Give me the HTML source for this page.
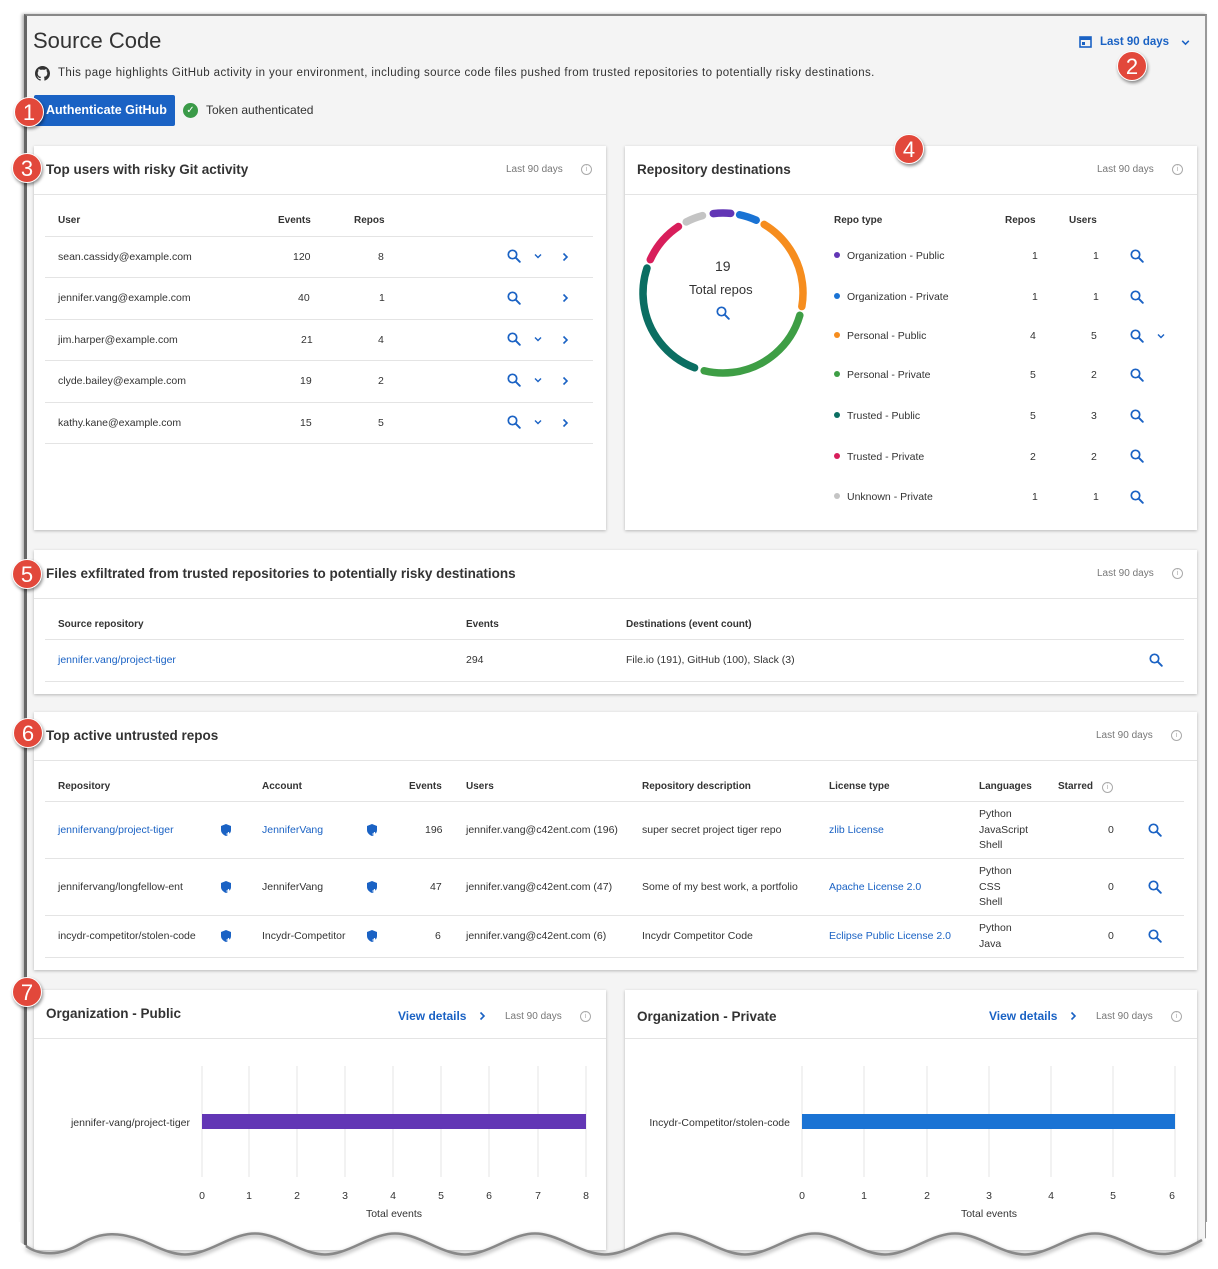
<!DOCTYPE html>
<html><head><meta charset="utf-8"><style>
body{margin:0;width:1218px;height:1269px;background:#fff;position:relative;overflow:hidden;font-family:"Liberation Sans",sans-serif;color:#333}
.t{position:absolute;white-space:nowrap;font-size:10.5px;line-height:14px;color:#333}
.h{font-weight:bold;font-size:10px;color:#333}
.card{position:absolute;background:#fff;box-shadow:0 1px 3px rgba(0,0,0,.25)}
.title{position:absolute;font-size:13.5px;font-weight:bold;color:#333;white-space:nowrap}
.l90{position:absolute;font-size:10px;color:#777;white-space:nowrap}
.info{position:absolute;width:9px;height:9px;border:1px solid #aaa;border-radius:50%;font-size:7px;line-height:9px;text-align:center;color:#aaa}
.line{position:absolute;height:1px;background:#e4e4e4}
.s{position:absolute;width:14px;height:14px}
.badge{position:absolute;width:30px;height:30px;border-radius:50%;background:#e2483b;color:#fff;font-size:22px;line-height:30px;text-align:center;box-shadow:1px 2px 3px rgba(0,0,0,.45);border:1px solid #fff;box-sizing:border-box}
.blue{color:#1a62c4}
.dot{display:inline-block;width:6px;height:6px;border-radius:50%;margin-right:7px;vertical-align:1px}
</style></head><body>
<svg width="0" height="0" style="position:absolute"><defs>
<symbol id="mag" viewBox="0 0 14 14"><circle cx="5.5" cy="5.5" r="4.2" fill="none" stroke="#1a62c4" stroke-width="1.7"/><line x1="8.6" y1="8.6" x2="12.8" y2="12.8" stroke="#1a62c4" stroke-width="1.9" stroke-linecap="round"/></symbol>
<symbol id="dn" viewBox="0 0 10 10"><polyline points="2,3.5 5,6.5 8,3.5" fill="none" stroke="#1a62c4" stroke-width="1.4"/></symbol>
<symbol id="rt" viewBox="0 0 10 10"><polyline points="3.5,1.5 7,5 3.5,8.5" fill="none" stroke="#1a62c4" stroke-width="1.6"/></symbol>
<symbol id="sh" viewBox="0 0 12 14"><path d="M6 1 L11 3 L11 7 C11 10 8.5 12 6 13 C3.5 12 1 10 1 7 L1 3 Z" fill="#1a62c4"/><path d="M8.5 9 v4 M6.5 11 h4" stroke="#fff" stroke-width="1.3"/></symbol>
</defs></svg>

<!-- page frame -->
<div style="position:absolute;left:24px;top:14px;width:1178px;height:1240px;background:#f4f4f4;border-left:3px solid #666;border-top:2px solid #888;border-right:2px solid #999;box-shadow:-2px 0 3px rgba(0,0,0,.3)"></div>

<div style="position:absolute;left:33px;top:28px;font-size:22px;color:#333">Source Code</div>
<svg style="position:absolute;left:35px;top:66px" width="15" height="15" viewBox="0 0 16 16"><path fill="#333" d="M8 0C3.58 0 0 3.58 0 8c0 3.54 2.29 6.53 5.47 7.59.4.07.55-.17.55-.38v-1.33c-2.23.48-2.7-1.07-2.7-1.07-.36-.92-.89-1.17-.89-1.17-.73-.5.06-.49.06-.49.8.06 1.23.83 1.23.83.72 1.22 1.87.87 2.33.66.07-.52.28-.87.51-1.07-1.78-.2-3.65-.89-3.65-3.95 0-.87.31-1.59.82-2.15-.08-.2-.36-1.02.08-2.12 0 0 .67-.21 2.2.82a7.6 7.6 0 014 0c1.53-1.04 2.2-.82 2.2-.82.44 1.1.16 1.92.08 2.12.51.56.82 1.27.82 2.15 0 3.07-1.87 3.75-3.65 3.95.29.25.54.73.54 1.48v2.2c0 .21.15.46.55.38A8.01 8.01 0 0016 8c0-4.42-3.58-8-8-8z"/></svg>
<div class="t" style="left:58px;top:66px;font-size:11.5px;letter-spacing:0.4px">This page highlights GitHub activity in your environment, including source code files pushed from trusted repositories to potentially risky destinations.</div>
<svg style="position:absolute;left:1079px;top:35px" width="13" height="13" viewBox="0 0 13 13"><rect x="1" y="2" width="11" height="10" fill="none" stroke="#1a62c4" stroke-width="1.6"/><rect x="1" y="2" width="11" height="3" fill="#1a62c4"/><rect x="3" y="7" width="3" height="3" fill="#1a62c4"/></svg>
<div class="t blue" style="left:1100px;top:35px;font-size:11.5px;font-weight:bold">Last 90 days</div>
<svg style="position:absolute;left:1180px;top:37px" width="11" height="11"><use href="#dn"/></svg>

<div style="position:absolute;left:34px;top:95px;width:141px;height:31px;background:#1a62c4;border-radius:2px;color:#fff;font-size:12.5px;font-weight:bold;line-height:31px;text-indent:12px">Authenticate GitHub</div>
<div style="position:absolute;left:183px;top:103px;width:15px;height:15px;border-radius:50%;background:#3a9a48;color:#fff;font-size:10px;line-height:15px;text-align:center">✓</div>
<div class="t" style="left:206px;top:103px;font-size:12px">Token authenticated</div>

<!-- Card 1 -->
<div class="card" style="left:34px;top:146px;width:572px;height:384px"></div>
<div class="title" style="left:46px;top:162px">Top users with risky Git activity</div>
<div class="l90" style="left:506px;top:164px">Last 90 days</div><div class="info" style="left:581px;top:164px">i</div>
<div class="line" style="left:34px;top:194px;width:572px"></div>
<div class="t h" style="left:58px;top:214px">User</div><div class="t h" style="left:278px;top:214px">Events</div><div class="t h" style="left:354px;top:214px">Repos</div>
<div class="line" style="left:45px;top:236px;width:548px"></div>
<div class="t" style="left:58px;top:250px">sean.cassidy@example.com</div><div class="t" style="left:293px;top:250px">120</div><div class="t" style="left:378px;top:250px">8</div>
<div class="line" style="left:45px;top:277px;width:548px"></div>
<div class="t" style="left:58px;top:291px">jennifer.vang@example.com</div><div class="t" style="left:298px;top:291px">40</div><div class="t" style="left:379px;top:291px">1</div>
<div class="line" style="left:45px;top:319px;width:548px"></div>
<div class="t" style="left:58px;top:333px">jim.harper@example.com</div><div class="t" style="left:301px;top:333px">21</div><div class="t" style="left:378px;top:333px">4</div>
<div class="line" style="left:45px;top:360px;width:548px"></div>
<div class="t" style="left:58px;top:374px">clyde.bailey@example.com</div><div class="t" style="left:300px;top:374px">19</div><div class="t" style="left:378px;top:374px">2</div>
<div class="line" style="left:45px;top:402px;width:548px"></div>
<div class="t" style="left:58px;top:416px">kathy.kane@example.com</div><div class="t" style="left:300px;top:416px">15</div><div class="t" style="left:378px;top:416px">5</div>
<div class="line" style="left:45px;top:443px;width:548px"></div>
<svg class="s" style="left:507px;top:249px"><use href="#mag"/></svg><svg style="position:absolute;left:533px;top:251px" width="10" height="10"><use href="#dn"/></svg><svg style="position:absolute;left:560px;top:252px" width="10" height="10"><use href="#rt"/></svg>
<svg class="s" style="left:507px;top:291px"><use href="#mag"/></svg><svg style="position:absolute;left:560px;top:293px" width="10" height="10"><use href="#rt"/></svg>
<svg class="s" style="left:507px;top:332px"><use href="#mag"/></svg><svg style="position:absolute;left:533px;top:334px" width="10" height="10"><use href="#dn"/></svg><svg style="position:absolute;left:560px;top:335px" width="10" height="10"><use href="#rt"/></svg>
<svg class="s" style="left:507px;top:373px"><use href="#mag"/></svg><svg style="position:absolute;left:533px;top:375px" width="10" height="10"><use href="#dn"/></svg><svg style="position:absolute;left:560px;top:376px" width="10" height="10"><use href="#rt"/></svg>
<svg class="s" style="left:507px;top:415px"><use href="#mag"/></svg><svg style="position:absolute;left:533px;top:417px" width="10" height="10"><use href="#dn"/></svg><svg style="position:absolute;left:560px;top:418px" width="10" height="10"><use href="#rt"/></svg>

<!-- Card 2 -->
<div class="card" style="left:625px;top:146px;width:572px;height:384px"></div>
<div class="title" style="left:637px;top:162px">Repository destinations</div>
<div class="l90" style="left:1097px;top:164px">Last 90 days</div><div class="info" style="left:1172px;top:164px">i</div>
<div class="line" style="left:625px;top:194px;width:572px"></div>
<svg style="position:absolute;left:633px;top:203px" width="180" height="180" viewBox="0 0 180 180">
<g transform="rotate(-97 90 90)" fill="none" stroke-width="7.5" stroke-linecap="round">
<circle cx="90" cy="90" r="80" stroke="#6236b5" stroke-dasharray="17.5 600" stroke-dashoffset="0"/>
<circle cx="90" cy="90" r="80" stroke="#1a73d4" stroke-dasharray="17.5 600" stroke-dashoffset="-26.5"/>
<circle cx="90" cy="90" r="80" stroke="#f68d1e" stroke-dasharray="96 600" stroke-dashoffset="-53"/>
<circle cx="90" cy="90" r="80" stroke="#3e9e45" stroke-dasharray="122 600" stroke-dashoffset="-158"/>
<circle cx="90" cy="90" r="80" stroke="#0b6e62" stroke-dasharray="122 600" stroke-dashoffset="-290"/>
<circle cx="90" cy="90" r="80" stroke="#d81e5b" stroke-dasharray="44 600" stroke-dashoffset="-421"/>
<circle cx="90" cy="90" r="80" stroke="#c4c4c4" stroke-dasharray="17.5 600" stroke-dashoffset="-474"/>
</g></svg>
<div class="t" style="left:715px;top:258px;font-size:14px;line-height:16px">19</div>
<div class="t" style="left:689px;top:282px;font-size:13px;line-height:16px">Total repos</div>
<svg class="s" style="left:716px;top:306px"><use href="#mag"/></svg>
<div class="t h" style="left:834px;top:214px">Repo type</div><div class="t h" style="left:1005px;top:214px">Repos</div><div class="t h" style="left:1069px;top:214px">Users</div>
<div class="t" style="left:834px;top:249px"><span class="dot" style="background:#6236b5"></span>Organization - Public</div><div class="t" style="left:1032px;top:249px">1</div><div class="t" style="left:1093px;top:249px">1</div><svg class="s" style="left:1130px;top:249px"><use href="#mag"/></svg>
<div class="t" style="left:834px;top:290px"><span class="dot" style="background:#1a73d4"></span>Organization - Private</div><div class="t" style="left:1032px;top:290px">1</div><div class="t" style="left:1093px;top:290px">1</div><svg class="s" style="left:1130px;top:290px"><use href="#mag"/></svg>
<div class="t" style="left:834px;top:329px"><span class="dot" style="background:#f68d1e"></span>Personal - Public</div><div class="t" style="left:1030px;top:329px">4</div><div class="t" style="left:1091px;top:329px">5</div><svg class="s" style="left:1130px;top:329px"><use href="#mag"/></svg><svg style="position:absolute;left:1156px;top:331px" width="10" height="10"><use href="#dn"/></svg>
<div class="t" style="left:834px;top:368px"><span class="dot" style="background:#3e9e45"></span>Personal - Private</div><div class="t" style="left:1030px;top:368px">5</div><div class="t" style="left:1091px;top:368px">2</div><svg class="s" style="left:1130px;top:368px"><use href="#mag"/></svg>
<div class="t" style="left:834px;top:409px"><span class="dot" style="background:#0b6e62"></span>Trusted - Public</div><div class="t" style="left:1030px;top:409px">5</div><div class="t" style="left:1091px;top:409px">3</div><svg class="s" style="left:1130px;top:409px"><use href="#mag"/></svg>
<div class="t" style="left:834px;top:450px"><span class="dot" style="background:#d81e5b"></span>Trusted - Private</div><div class="t" style="left:1030px;top:450px">2</div><div class="t" style="left:1091px;top:450px">2</div><svg class="s" style="left:1130px;top:449px"><use href="#mag"/></svg>
<div class="t" style="left:834px;top:490px"><span class="dot" style="background:#c4c4c4"></span>Unknown - Private</div><div class="t" style="left:1032px;top:490px">1</div><div class="t" style="left:1093px;top:490px">1</div><svg class="s" style="left:1130px;top:490px"><use href="#mag"/></svg>

<!-- Card 3 -->
<div class="card" style="left:34px;top:550px;width:1163px;height:144px"></div>
<div class="title" style="left:46px;top:566px">Files exfiltrated from trusted repositories to potentially risky destinations</div>
<div class="l90" style="left:1097px;top:568px">Last 90 days</div><div class="info" style="left:1172px;top:568px">i</div>
<div class="line" style="left:34px;top:598px;width:1163px"></div>
<div class="t h" style="left:58px;top:618px">Source repository</div><div class="t h" style="left:466px;top:618px">Events</div><div class="t h" style="left:626px;top:618px">Destinations (event count)</div>
<div class="line" style="left:45px;top:639px;width:1139px"></div>
<div class="t blue" style="left:58px;top:653px">jennifer.vang/project-tiger</div><div class="t" style="left:466px;top:653px">294</div><div class="t" style="left:626px;top:653px">File.io (191), GitHub (100), Slack (3)</div><svg class="s" style="left:1149px;top:653px"><use href="#mag"/></svg>
<div class="line" style="left:45px;top:681px;width:1139px"></div>

<!-- Card 4 -->
<div class="card" style="left:34px;top:712px;width:1163px;height:258px"></div>
<div class="title" style="left:46px;top:728px">Top active untrusted repos</div>
<div class="l90" style="left:1096px;top:730px">Last 90 days</div><div class="info" style="left:1171px;top:730px">i</div>
<div class="line" style="left:34px;top:760px;width:1163px"></div>
<div class="t h" style="left:58px;top:780px">Repository</div><div class="t h" style="left:262px;top:780px">Account</div><div class="t h" style="left:409px;top:780px">Events</div><div class="t h" style="left:466px;top:780px">Users</div><div class="t h" style="left:642px;top:780px">Repository description</div><div class="t h" style="left:829px;top:780px">License type</div><div class="t h" style="left:979px;top:780px">Languages</div><div class="t h" style="left:1058px;top:780px">Starred</div><div class="info" style="left:1102px;top:782px">i</div>
<div class="line" style="left:45px;top:801px;width:1139px"></div>
<div class="t blue" style="left:58px;top:823px">jennifervang/project-tiger</div><svg style="position:absolute;left:220px;top:823px" width="12" height="14"><use href="#sh"/></svg><div class="t blue" style="left:262px;top:823px">JenniferVang</div><svg style="position:absolute;left:366px;top:823px" width="12" height="14"><use href="#sh"/></svg><div class="t" style="left:425px;top:823px">196</div><div class="t" style="left:466px;top:823px">jennifer.vang@c42ent.com (196)</div><div class="t" style="left:642px;top:823px">super secret project tiger repo</div><div class="t blue" style="left:829px;top:823px">zlib License</div><div class="t" style="left:979px;top:807px;line-height:15.5px">Python<br>JavaScript<br>Shell</div><div class="t" style="left:1108px;top:823px">0</div><svg class="s" style="left:1148px;top:823px"><use href="#mag"/></svg>
<div class="line" style="left:45px;top:858px;width:1139px"></div>
<div class="t" style="left:58px;top:880px">jennifervang/longfellow-ent</div><svg style="position:absolute;left:220px;top:880px" width="12" height="14"><use href="#sh"/></svg><div class="t" style="left:262px;top:880px">JenniferVang</div><svg style="position:absolute;left:366px;top:880px" width="12" height="14"><use href="#sh"/></svg><div class="t" style="left:430px;top:880px">47</div><div class="t" style="left:466px;top:880px">jennifer.vang@c42ent.com (47)</div><div class="t" style="left:642px;top:880px">Some of my best work, a portfolio</div><div class="t blue" style="left:829px;top:880px">Apache License 2.0</div><div class="t" style="left:979px;top:864px;line-height:15.5px">Python<br>CSS<br>Shell</div><div class="t" style="left:1108px;top:880px">0</div><svg class="s" style="left:1148px;top:880px"><use href="#mag"/></svg>
<div class="line" style="left:45px;top:915px;width:1139px"></div>
<div class="t" style="left:58px;top:929px">incydr-competitor/stolen-code</div><svg style="position:absolute;left:220px;top:929px" width="12" height="14"><use href="#sh"/></svg><div class="t" style="left:262px;top:929px">Incydr-Competitor</div><svg style="position:absolute;left:366px;top:929px" width="12" height="14"><use href="#sh"/></svg><div class="t" style="left:435px;top:929px">6</div><div class="t" style="left:466px;top:929px">jennifer.vang@c42ent.com (6)</div><div class="t" style="left:642px;top:929px">Incydr Competitor Code</div><div class="t blue" style="left:829px;top:929px">Eclipse Public License 2.0</div><div class="t" style="left:979px;top:921px;line-height:15.5px">Python<br>Java</div><div class="t" style="left:1108px;top:929px">0</div><svg class="s" style="left:1148px;top:929px"><use href="#mag"/></svg>
<div class="line" style="left:45px;top:957px;width:1139px"></div>

<!-- Card 5 -->
<div class="card" style="left:34px;top:990px;width:572px;height:260px"></div>
<div class="title" style="left:46px;top:1006px">Organization - Public</div>
<div class="t blue" style="left:398px;top:1009px;font-size:12px;font-weight:bold">View details</div><svg style="position:absolute;left:477px;top:1011px" width="10" height="10"><use href="#rt"/></svg>
<div class="l90" style="left:505px;top:1011px">Last 90 days</div><div class="info" style="left:580px;top:1011px">i</div>
<div class="line" style="left:34px;top:1038px;width:572px"></div>
<svg style="position:absolute;left:34px;top:1040px" width="572" height="200">
<g stroke="#e6e6e6" stroke-width="1"><line x1="168" y1="26" x2="168" y2="137"/><line x1="215" y1="26" x2="215" y2="137"/><line x1="263" y1="26" x2="263" y2="137"/><line x1="311" y1="26" x2="311" y2="137"/><line x1="359" y1="26" x2="359" y2="137"/><line x1="407" y1="26" x2="407" y2="137"/><line x1="455" y1="26" x2="455" y2="137"/><line x1="504" y1="26" x2="504" y2="137"/><line x1="552" y1="26" x2="552" y2="137"/></g>
<rect x="168" y="74" width="384" height="15" fill="#6236b5"/>
<g font-family="Liberation Sans" font-size="10.5" fill="#333" text-anchor="middle"><text x="168" y="159">0</text><text x="215" y="159">1</text><text x="263" y="159">2</text><text x="311" y="159">3</text><text x="359" y="159">4</text><text x="407" y="159">5</text><text x="455" y="159">6</text><text x="504" y="159">7</text><text x="552" y="159">8</text><text x="360" y="177">Total events</text><text x="156" y="86" text-anchor="end">jennifer-vang/project-tiger</text></g>
</svg>

<!-- Card 6 -->
<div class="card" style="left:625px;top:990px;width:572px;height:260px"></div>
<div class="title" style="left:637px;top:1009px">Organization - Private</div>
<div class="t blue" style="left:989px;top:1009px;font-size:12px;font-weight:bold">View details</div><svg style="position:absolute;left:1068px;top:1011px" width="10" height="10"><use href="#rt"/></svg>
<div class="l90" style="left:1096px;top:1011px">Last 90 days</div><div class="info" style="left:1171px;top:1011px">i</div>
<div class="line" style="left:625px;top:1038px;width:572px"></div>
<svg style="position:absolute;left:625px;top:1040px" width="572" height="200">
<g stroke="#e6e6e6" stroke-width="1"><line x1="177" y1="26" x2="177" y2="137"/><line x1="239" y1="26" x2="239" y2="137"/><line x1="302" y1="26" x2="302" y2="137"/><line x1="364" y1="26" x2="364" y2="137"/><line x1="426" y1="26" x2="426" y2="137"/><line x1="488" y1="26" x2="488" y2="137"/><line x1="550" y1="26" x2="550" y2="137"/></g>
<rect x="177" y="74" width="373" height="15" fill="#1a73d4"/>
<g font-family="Liberation Sans" font-size="10.5" fill="#333" text-anchor="middle"><text x="177" y="159">0</text><text x="239" y="159">1</text><text x="302" y="159">2</text><text x="364" y="159">3</text><text x="426" y="159">4</text><text x="488" y="159">5</text><text x="547" y="159">6</text><text x="364" y="177">Total events</text><text x="165" y="86" text-anchor="end">Incydr-Competitor/stolen-code</text></g>
</svg>

<!-- wavy bottom -->
<svg style="position:absolute;left:0;top:1222px" width="1218" height="47" viewBox="0 0 1218 47">
<path d="M0 47 L0 0 L20 0 L20 20 C40 34 60 34 80 22 S 120 8 150 22 S 190 36 220 22 S 260 8 290 22 S 330 36 360 22 S 400 8 430 22 S 470 36 500 22 S 540 8 570 22 S 610 36 640 22 S 680 8 710 22 S 750 36 780 22 S 820 8 850 22 S 890 36 920 22 S 960 8 990 22 S 1030 36 1060 22 S 1100 8 1130 22 S 1170 36 1206 16 L1206 0 L1218 0 L1218 47 Z" fill="#fff"/>
<path d="M26 24 C40 34 60 34 80 22 S 120 8 150 22 S 190 36 220 22 S 260 8 290 22 S 330 36 360 22 S 400 8 430 22 S 470 36 500 22 S 540 8 570 22 S 610 36 640 22 S 680 8 710 22 S 750 36 780 22 S 820 8 850 22 S 890 36 920 22 S 960 8 990 22 S 1030 36 1060 22 S 1100 8 1130 22 S 1170 36 1202 18" fill="none" stroke="#888" stroke-width="2.5" style="filter:drop-shadow(0 2px 2px rgba(0,0,0,.4))"/>
</svg>

<!-- badges -->
<div class="badge" style="left:14px;top:97px">1</div>
<div class="badge" style="left:1117px;top:51px">2</div>
<div class="badge" style="left:12px;top:153px">3</div>
<div class="badge" style="left:894px;top:134px">4</div>
<div class="badge" style="left:12px;top:559px">5</div>
<div class="badge" style="left:13px;top:718px">6</div>
<div class="badge" style="left:12px;top:977px">7</div>
</body></html>
